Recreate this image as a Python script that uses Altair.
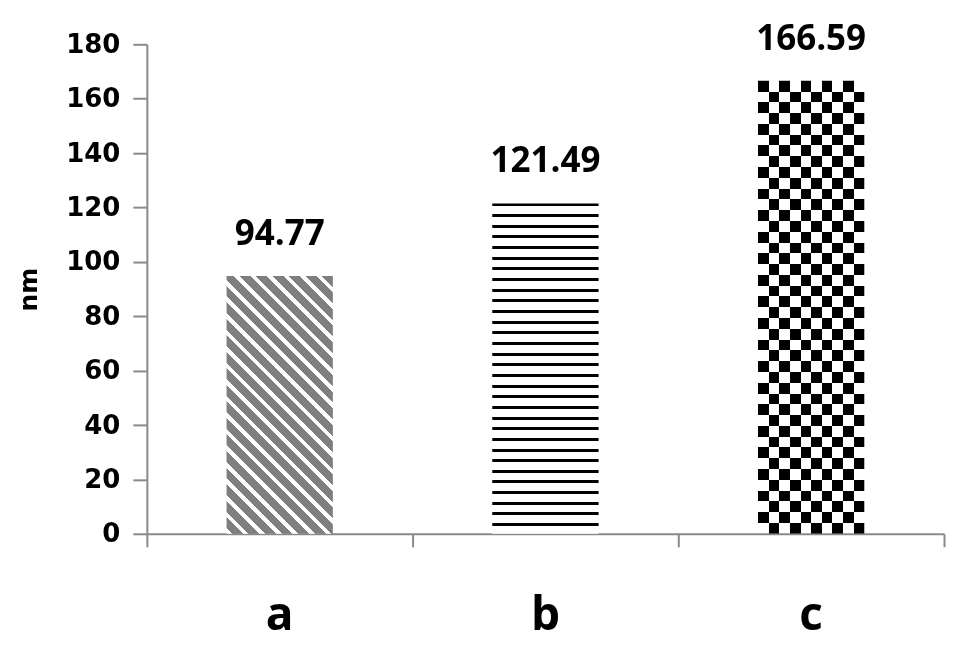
import altair as alt
import pandas as pd

# ---- data ----
categories = ["a", "b", "c"]
values = [94.77, 121.49, 166.59]
value_labels = ["94.77", "121.49", "166.59"]
y_ticks = [0, 20, 40, 60, 80, 100, 120, 140, 160, 180]

# ---- layout / style ----
W, H = 798, 490
YMAX = 180
BAR_FRAC = 0.4
step_px = W / len(categories)
bar_w = step_px * BAR_FRAC
AXIS_GREY = "#8a8a8a"


def hard_stops(n, frac, c_on, c_off):
    stops = []
    for i in range(n):
        a = i / n
        b = (i + frac) / n
        e = (i + 1) / n
        stops += [
            {"offset": a, "color": c_on},
            {"offset": b, "color": c_on},
            {"offset": b, "color": c_off},
            {"offset": e, "color": c_off},
        ]
    return stops


def px_height(v):
    return v / YMAX * H


# bar a : diagonal grey stripes
ha = px_height(values[0])
s = ha * (ha + bar_w) / (ha * ha + bar_w * bar_w)
n_diag = round((bar_w + ha) / 16.7)
grad_a = {
    "gradient": "linear",
    "x1": 1, "y1": 0,
    "x2": 1 - s * bar_w / ha, "y2": s,
    "stops": hard_stops(n_diag, 0.66, "#7f7f7f", "#ffffff"),
}

# bar b : horizontal black lines
hb = px_height(values[1])
n_lines = round(hb / 10.75)
grad_b = {
    "gradient": "linear",
    "x1": 0, "y1": 0, "x2": 0, "y2": 1,
    "stops": hard_stops(n_lines, 0.28, "#000000", "#ffffff"),
}

# bar c : checkerboard = vertical stripes XOR horizontal stripes (difference blend)
hc = px_height(values[2])
n_cols = 10
cell = bar_w / n_cols
n_row_pairs = round(hc / (2 * cell))
grad_c_cols = {
    "gradient": "linear",
    "x1": 0, "y1": 0, "x2": 1, "y2": 0,
    "stops": hard_stops(n_cols // 2, 0.5, "#000000", "#ffffff"),
}
grad_c_rows = {
    "gradient": "linear",
    "x1": 0, "y1": 0, "x2": 0, "y2": 1,
    "stops": hard_stops(n_row_pairs, 0.5, "#000000", "#ffffff"),
}

df = pd.DataFrame({"cat": categories, "value": values, "label": value_labels})

x_scale = alt.Scale(domain=[0, len(categories)], nice=False, zero=False)
y_scale = alt.Scale(domain=[0, YMAX], nice=False)

base = (
    alt.Chart(df)
    .transform_window(idx="row_number()")
    .transform_calculate(
        x0=f"datum.idx - 1 + {(1 - BAR_FRAC) / 2}",
        x1=f"datum.idx - {(1 - BAR_FRAC) / 2}",
        xc="datum.idx - 0.5",
    )
)

x_axis = alt.Axis(
    values=[0, 1, 2, 3], labels=False, ticks=True, tickSize=13, tickWidth=2,
    tickColor=AXIS_GREY, domainColor=AXIS_GREY, domainWidth=2, grid=False, title=None,
)
y_axis = alt.Axis(
    values=y_ticks, labelFont="DejaVu Sans", labelFontWeight="bold", labelFontSize=26,
    labelColor="black", labelPadding=13, tickColor=AXIS_GREY, tickSize=14, tickWidth=2,
    domainColor=AXIS_GREY, domainWidth=2, grid=False,
    title="nm", titleFont="DejaVu Sans", titleFontWeight="bold", titleFontSize=25,
    titleColor="black", titlePadding=24,
)


def bar_layer(i, fill, blend=None):
    kw = {"fill": fill, "stroke": None}
    if blend:
        kw["blend"] = blend
    return (
        base.transform_filter(alt.datum.cat == categories[i])
        .mark_bar(**kw)
        .encode(
            x=alt.X("x0:Q", scale=x_scale, axis=x_axis),
            x2="x1:Q",
            y=alt.Y("value:Q", scale=y_scale, axis=y_axis),
            y2=alt.datum(0),
        )
    )


bars_a = bar_layer(0, grad_a)
bars_b = bar_layer(1, grad_b)
bars_c1 = bar_layer(2, grad_c_cols)
bars_c2 = bar_layer(2, grad_c_rows, blend="difference")

value_text = base.mark_text(
    font="Open Sans", fontWeight="bold", fontSize=35, dy=-42, color="black"
).encode(
    x=alt.X("xc:Q", scale=x_scale, axis=x_axis),
    y=alt.Y("value:Q", scale=y_scale, axis=y_axis),
    text="label:N",
)

cat_text = base.mark_text(
    font="Open Sans", fontWeight="bold", fontSize=46, baseline="alphabetic", color="black"
).encode(
    x=alt.X("xc:Q", scale=x_scale, axis=x_axis),
    y=alt.value(H + 96),
    text="cat:N",
)

chart = (
    alt.layer(bars_a, bars_b, bars_c1, bars_c2, value_text, cat_text)
    .properties(
        width=W, height=H,
        autosize=alt.AutoSizeParams(type="none"),
        padding={"left": 139, "top": 36, "right": 10, "bottom": 120},
        background="white",
    )
    .configure_view(stroke=None)
)

chart.save("out.html", embed_options={"renderer": "svg", "actions": False})
